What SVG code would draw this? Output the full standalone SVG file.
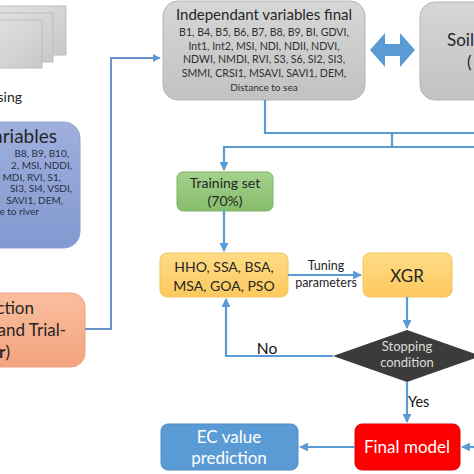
<svg xmlns="http://www.w3.org/2000/svg" width="474" height="474" viewBox="0 0 474 474">
<defs>
<linearGradient id="gGray" x1="0" y1="0" x2="0" y2="1"><stop offset="0" stop-color="#d6d6d6"/><stop offset="1" stop-color="#c2c2c2"/></linearGradient>
<linearGradient id="gPage" x1="0" y1="0" x2="1" y2="1"><stop offset="0" stop-color="#e2e2e2"/><stop offset="1" stop-color="#c8c8c8"/></linearGradient>
<linearGradient id="gBlue" x1="0" y1="0" x2="0" y2="1"><stop offset="0" stop-color="#9fb0de"/><stop offset="1" stop-color="#8298cf"/></linearGradient>
<linearGradient id="gOrange" x1="0" y1="0" x2="0" y2="1"><stop offset="0" stop-color="#f9be9e"/><stop offset="1" stop-color="#f4a37d"/></linearGradient>
<linearGradient id="gGreen" x1="0" y1="0" x2="0" y2="1"><stop offset="0" stop-color="#a3d18c"/><stop offset="1" stop-color="#86bd6b"/></linearGradient>
<linearGradient id="gYellow" x1="0" y1="0" x2="0" y2="1"><stop offset="0" stop-color="#ffdb85"/><stop offset="1" stop-color="#fcc95e"/></linearGradient>
<marker id="ah" viewBox="0 0 10 10" refX="9" refY="5" markerWidth="4" markerHeight="4" orient="auto-start-reverse"><path d="M0,0 L10,5 L0,10 z" fill="#5b9bd5"/></marker>
<style>
text{font-family:Lato,"Open Sans","Liberation Sans",sans-serif;}
.c{fill:none;stroke:#5b9bd5;stroke-width:2.2;}
.cl{fill:none;stroke:#6a93c8;stroke-width:2;}
.dark{fill:#262626;}
.mid{text-anchor:middle;}
.w{fill:#ffffff;}
</style>
</defs>
<rect width="474" height="474" fill="#ffffff"/>

<g id="pages">
<rect x="-10" y="6" width="76" height="49" fill="url(#gPage)" stroke="#bdbdbd" stroke-width="1"/>
<rect x="-10" y="13" width="63" height="49" fill="url(#gPage)" stroke="#bdbdbd" stroke-width="1"/>
<rect x="-10" y="20" width="52" height="48" fill="url(#gPage)" stroke="#bdbdbd" stroke-width="1"/>
<text x="22" y="102" font-size="14" text-anchor="end" class="dark">sing</text>
</g>

<g id="variables">
<rect x="-30" y="122" width="110" height="126" rx="16" fill="url(#gBlue)" stroke="#8fa2d4" stroke-width="1"/>
<text x="57" y="143" font-size="19" text-anchor="end" class="dark">ariables</text>
<g font-size="10" text-anchor="end" fill="#2a2f45">
<text x="69" y="157">B8, B9, B10,</text>
<text x="72" y="169">2, MSI, NDDI,</text>
<text x="61" y="181">MDI, RVI, S1,</text>
<text x="72" y="192">SI3, SI4, VSDI,</text>
<text x="63" y="204">SAVI1, DEM,</text>
<text x="39" y="215">ce to river</text>
</g>
</g>

<g id="selection">
<rect x="-30" y="293" width="115" height="74" rx="14" fill="url(#gOrange)" stroke="#eaa080" stroke-width="1"/>
<g font-size="17" text-anchor="end" class="dark">
<text x="34" y="314">ction</text>
<text x="66" y="336">and Trial-</text>
<text x="10" y="358"><tspan font-weight="bold">r</tspan>)</text>
</g>
</g>

<g id="independent">
<rect x="163" y="1" width="202" height="99" rx="15" fill="url(#gGray)" stroke="#b5b5b5" stroke-width="1"/>
<text x="264" y="20" font-size="15" class="mid dark">Independant  variables final</text>
<g font-size="10.6" class="mid" fill="#303030">
<text x="264" y="36">B1, B4, B5, B6, B7, B8, B9, BI, GDVI,</text>
<text x="264" y="49.5">Int1, Int2, MSI, NDI, NDII, NDVI,</text>
<text x="264" y="63">NDWI, NMDI, RVI, S3, S6, SI2, SI3,</text>
<text x="264" y="77">SMMI, CRSI1, MSAVI, SAVI1, DEM,</text>
<text x="264" y="91" font-size="10">Distance to sea</text>
</g>
</g>

<g id="soil">
<rect x="420" y="2" width="80" height="98" rx="15" fill="url(#gGray)" stroke="#b5b5b5" stroke-width="1"/>
<text x="447" y="46" font-size="17" class="dark">Soil</text>
<text x="467" y="68" font-size="17" class="dark">(</text>
</g>

<g id="biarrow">
<path d="M370,50 L385,33 L385,44 L400,44 L400,33 L415,50 L400,67 L400,56 L385,56 L385,67 z" fill="#5b9bd5"/>
</g>

<g id="training">
<rect x="177" y="172" width="96" height="39" rx="6" fill="url(#gGreen)" stroke="#7fb466" stroke-width="1"/>
<text x="225" y="188" font-size="14" class="mid dark">Training set</text>
<text x="225" y="206" font-size="14" class="mid dark">(70%)</text>
</g>

<g id="optimizers">
<rect x="160" y="253" width="128" height="44" rx="7" fill="url(#gYellow)" stroke="#f2c460" stroke-width="1"/>
<text x="224" y="272" font-size="14" class="mid dark">HHO, SSA, BSA,</text>
<text x="224" y="291" font-size="14" class="mid dark">MSA, GOA, PSO</text>
</g>

<g id="xgr">
<rect x="363" y="253" width="89" height="44" rx="7" fill="url(#gYellow)" stroke="#f2c460" stroke-width="1"/>
<text x="407" y="282" font-size="17" class="mid dark">XGR</text>
</g>

<g id="stopping">
<polygon points="333,356 407,330 481,356 407,382" fill="#3b3b3b"/>
<text x="407" y="351" font-size="13" class="mid" fill="#dcdcdc">Stopping</text>
<text x="407" y="367" font-size="13" class="mid" fill="#dcdcdc">condition</text>
</g>

<g id="final">
<rect x="355" y="424" width="105" height="46" rx="7" fill="#ff0000" stroke="#e00000" stroke-width="1"/>
<text x="407" y="453" font-size="17" class="mid w">Final model</text>
</g>

<g id="ec">
<rect x="161" y="424" width="137" height="46" rx="7" fill="#5b9bd5" stroke="#4f8cc4" stroke-width="1"/>
<text x="229" y="443" font-size="17" class="mid w">EC value</text>
<text x="229" y="464" font-size="17" class="mid w">prediction</text>
</g>

<g id="connectors">
<path class="cl" d="M85,329 L111,329 L111,58 L160,58" marker-end="url(#ah)"/>
<path class="c" d="M265,100 L265,133 L474,133"/>
<path class="c" d="M392,133 L392,147"/>
<path class="c" d="M474,147 L224,147 L224,170" marker-end="url(#ah)"/>
<path class="c" d="M224,211 L224,251" marker-end="url(#ah)"/>
<path class="c" d="M288,275 L361,275" marker-end="url(#ah)"/>
<path class="c" d="M407,297 L407,328" marker-end="url(#ah)"/>
<path class="c" d="M333,356 L226,356 L226,299" marker-end="url(#ah)"/>
<path class="c" d="M407,382 L407,422" marker-end="url(#ah)"/>
<path class="c" d="M474,447 L462,447" marker-end="url(#ah)"/>
<path class="c" d="M355,447 L300,447" marker-end="url(#ah)"/>
<text x="326" y="270" font-size="12.5" class="mid dark">Tuning</text>
<text x="326" y="287" font-size="12.5" class="mid dark">parameters</text>
<text x="267" y="354" font-size="15.5" class="mid" fill="#111">No</text>
<text x="408" y="407" font-size="14.5" fill="#111">Yes</text>
</g>
</svg>
